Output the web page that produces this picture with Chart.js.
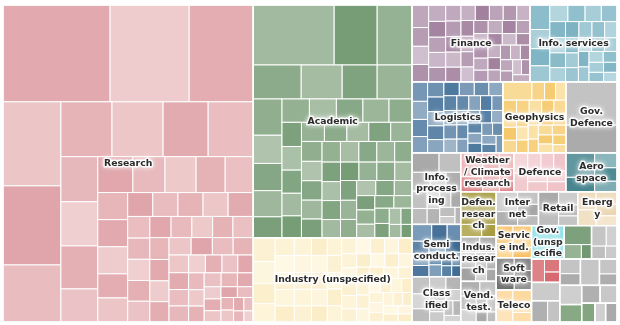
<!DOCTYPE html>
<html>
<head>
<meta charset="utf-8">
<script src="https://cdn.jsdelivr.net/npm/chart.js@4.4.0/dist/chart.umd.min.js"></script>
<style>
  html, body { margin: 0; padding: 0; background: #fff; }
  #wrap { width: 620px; height: 325px; }
</style>
</head>
<body>
<div id="wrap"><canvas id="tree"></canvas></div>
<script>
// application areas, biggest first; unnamed ones get no caption
const areaNames = [
  "Research", "Academic", "Industry (unspecified)", "Finance", "Info. services",
  "Logistics", "Geophysics", "Gov. Defence", "Info. processing", "Semiconduct.",
  "Classified", "Weather / Climate research", "Defence", "Aero space",
  "Defen. research", "Indus. research", "Vend. test.", "Internet", "Retail",
  "Energy", "Service ind.", "Software", "Teleco", "Gov. (unspecified)",
  "", "", "", "", "", "", "", "", "", "", "", "", "", "", "",
];

// caption lines as they are wrapped inside each box
const labelLines = [
  ["Research"], ["Academic"], ["Industry (unspecified)"], ["Finance"], ["Info. services"],
  ["Logistics"], ["Geophysics"], ["Gov.", "Defence"], ["Info.", "process", "ing"], ["Semi", "conduct."],
  ["Class", "ified"], ["Weather", "/ Climate", "research"], ["Defence"], ["Aero", "space"],
  ["Defen.", "resear", "ch"], ["Indus.", "resear", "ch"], ["Vend.", "test."], ["Inter", "net"], ["Retail"],
  ["Energ", "y"], ["Servic", "e ind."], ["Soft", "ware"], ["Teleco"], ["Gov.", "(unsp", "ecifie"],
];

// one value per system, per area
const systems = [
  [10379, 7663, 6208, 4872, 4582, 3306, 2805, 2805, 2475, 2475, 1665, 1628, 1591, 1221, 1260, 1152, 1116, 1044, 1008,
   810, 810, 810, 720, 720, 600, 600, 600, 600, 600, 480, 470, 470, 460, 460, 450, 440, 440, 430, 430, 420, 410, 400,
   390, 385, 370, 362, 350, 347, 330, 322, 315, 300, 296, 283, 275, 262, 255, 248, 236, 226, 220, 205, 198, 190, 176,
   170, 158, 150, 138, 126, 115, 104],
  [4860, 2580, 2100, 1632, 1394, 1190, 1190, 1044, 812, 783, 754, 609, 640, 630, 620, 610, 540, 470, 460, 450, 440, 430,
   440, 430, 420, 420, 410, 410, 400, 400, 390, 390, 380, 380, 370, 370, 360, 360, 350, 350, 340, 340, 330, 330, 320, 320,
   310, 300, 290, 280, 270, 260, 260, 250, 240, 230, 220, 210, 190, 180, 160, 150],
  [520, 480, 440, 400, 340, 330, 320, 315, 310, 300, 295, 290, 285, 280, 275, 270, 265, 260, 255, 250, 245, 240, 238, 235,
   230, 226, 222, 218, 215, 212, 208, 205, 200, 196, 192, 188, 185, 182, 178, 175, 172, 168, 165, 162, 158, 155, 152, 148,
   145, 142, 138, 135, 132, 128, 125, 122, 118, 115, 112],
  [373, 310, 300, 290, 280, 270, 260, 255, 250, 245, 240, 235, 230, 226, 222, 218, 214, 210, 206, 202, 198, 195, 192,
   189, 186, 183, 180, 177, 174, 171, 168, 165, 162, 159, 156, 153, 150, 147, 144, 141, 138, 135, 132, 129, 126],
  [486, 380, 340, 320, 300, 285, 270, 260, 250, 240, 232, 225, 218, 212, 206, 200, 195, 190, 185, 180, 175, 170, 165,
   160, 155, 150, 145, 140, 135, 130],
  [300, 280, 265, 255, 245, 238, 230, 224, 218, 212, 206, 200, 196, 192, 188, 184, 180, 176, 172, 168, 164, 160, 157,
   154, 151, 148, 145, 142, 139, 136, 133, 130, 127, 124, 122],
  [525, 230, 200, 190, 185, 180, 175, 170, 168, 165, 162, 160, 158, 155, 152, 150, 148, 145, 142, 140, 138, 135, 132,
   130, 128, 110],
  [2200, 1421],
  [520, 420, 340, 300, 280, 260, 240, 220, 200, 180, 160, 140, 120, 99],
  [330, 260, 230, 210, 200, 190, 180, 170, 160, 150, 140, 120, 110, 100],
  [300, 260, 230, 210, 190, 180, 170, 160, 150, 130, 115, 110],
  [520, 330, 260, 230, 200, 190, 180, 157],
  [280, 260, 240, 230, 220, 210, 200, 200, 188],
  [700, 420, 330, 300, 239],
  [1150, 260, 180],
  [300, 260, 230, 200, 180, 160, 130, 120],
  [280, 240, 210, 190, 170, 150, 110, 90],
  [420, 300, 260, 240, 208],
  [380, 300, 250, 210, 186],
  [330, 290, 260, 240, 206],
  [300, 240, 210, 200, 190],
  [320, 260, 220, 190, 150],
  [280, 250, 220, 200, 180],
  [1088],
  [520, 250, 148],
  [300, 220, 180, 150],
  [300, 200, 160],
  [520],
  [340, 260],
  [300, 240],
  [500],
  [260, 200],
  [420],
  [380],
  [330],
  [300],
  [250],
  [200],
  [213],
];

// dark / light end of each area's colour
const palette = [
  ["#e0a5aa", "#f0cfd0"], ["#779d77", "#b0c4ad"], ["#fbedc8", "#fef8e4"], ["#a2819e", "#d0bfcf"],
  ["#7db3c3", "#bddbe3"], ["#4f7aa0", "#9db4c9"], ["#f5c96b", "#fbe5b0"], ["#a4a4a4", "#c6c6c6"],
  ["#a9a9a9", "#d3d3d3"], ["#3a6790", "#8aa8c3"], ["#b3b3b3", "#d6d6d6"], ["#d8777e", "#f2c4c5"],
  ["#efc3c8", "#f6dadd"], ["#3f7f89", "#93bcc1"], ["#a89d45", "#bfb56a"], ["#9a9a9a", "#cfcfcf"],
  ["#a8a8a8", "#d4d4d4"], ["#a5a5a5", "#d0d0d0"], ["#a8a8a8", "#d3d3d3"], ["#e9d4af", "#f5e8d0"],
  ["#f9c062", "#fcd999"], ["#6e6e6e", "#9a9a9a"], ["#fcd697", "#fee8c4"], ["#7bdbe3", "#8fe2e8"],
  ["#6f976f", "#a7bfa3"], ["#b5b5b5", "#d5d5d5"], ["#d4656c", "#e49296"], ["#a9a9a9", "#cfcfcf"],
  ["#b0b0b0", "#d2d2d2"], ["#a6a6a6", "#cccccc"], ["#b8b8b8", "#d8d8d8"], ["#acacac", "#d0d0d0"],
  ["#b4b4b4", "#d4d4d4"], ["#7fa37c", "#93b190"], ["#a9a9a9", "#cdcdcd"], ["#b6b6b6", "#d6d6d6"],
  ["#7fa37c", "#9ab696"], ["#b0b0b0", "#d0d0d0"], ["#a8a8a8", "#cacaca"],
];

const shadeSteps = [0.1, 0.9, 0.2, 0.75, 0.0, 0.55, 0.35, 0.8, 0.15, 0.6, 0.45, 1.0, 0.25, 0.7, 0.05, 0.5, 0.85, 0.3, 0.65, 0.4];

const sum = (arr) => arr.reduce((a, b) => a + b, 0);

function mix(c0, c1, t) {
  const a = parseInt(c0.slice(1), 16), b = parseInt(c1.slice(1), 16);
  const ch = (n, s) => (n >> s) & 255;
  const m = (s) => Math.round(ch(a, s) + (ch(b, s) - ch(a, s)) * t);
  return `rgb(${m(16)},${m(8)},${m(0)})`;
}

function worst(row, side) {
  const s = sum(row);
  let w = 0;
  for (const a of row) {
    w = Math.max(w, (side * side * a) / (s * s), (s * s) / (side * side * a));
  }
  return w;
}

// squarified layout in data units
function squarify(values, box) {
  const k = (box.w * box.h) / sum(values);
  const sizes = values.map((v) => v * k);
  let { x, y, w, h } = box;
  const out = [];
  let i = 0;
  while (i < sizes.length) {
    const side = Math.max(Math.min(w, h), 1e-6);
    let row = [sizes[i]];
    let best = worst(row, side);
    let j = i + 1;
    while (j < sizes.length) {
      const next = row.concat(sizes[j]);
      const ws = worst(next, side);
      if (ws > best) break;
      row = next;
      best = ws;
      j++;
    }
    const s = sum(row);
    if (w >= h) {
      const cw = s / h;
      let yy = y;
      row.forEach((a) => {
        out.push({ x, y: yy, w: cw, h: a / cw });
        yy += a / cw;
      });
      x += cw;
      w -= cw;
    } else {
      const rh = s / w;
      let xx = x;
      row.forEach((a) => {
        out.push({ x: xx, y, w: a / rh, h: rh });
        xx += a / rh;
      });
      y += rh;
      h -= rh;
    }
    i = j;
  }
  return out;
}

const treemap = {
  id: "treemap",
  afterDatasetsDraw(chart) {
    const { ctx } = chart;
    const xs = chart.scales.x;
    const ys = chart.scales.y;
    const px = (v) => xs.getPixelForValue(v);
    const py = (v) => ys.getPixelForValue(v);
    const toPx = (b) => {
      const x0 = px(b.x), x1 = px(b.x + b.w), y0 = py(b.y), y1 = py(b.y + b.h);
      return { x: x0, y: y0, w: x1 - x0, h: y1 - y0 };
    };

    const boxes = squarify(systems.map(sum), {
      x: xs.min, y: ys.min, w: xs.max - xs.min, h: ys.max - ys.min,
    });

    ctx.save();
    boxes.forEach((b, g) => {
      squarify(systems[g], b).forEach((c, i) => {
        const r = toPx(c);
        const t = shadeSteps[(i + g * 3) % shadeSteps.length];
        ctx.fillStyle = mix(palette[g][0], palette[g][1], t);
        ctx.fillRect(r.x, r.y, r.w, r.h);
        ctx.strokeStyle = "#fff";
        ctx.lineWidth = 1;
        ctx.strokeRect(r.x, r.y, r.w, r.h);
      });
      const r = toPx(b);
      ctx.strokeStyle = "#fff";
      ctx.lineWidth = 1.5;
      ctx.strokeRect(r.x, r.y, r.w, r.h);
    });

    // captions
    ctx.font = 'bold 9.3px "DejaVu Sans"';
    ctx.textAlign = "center";
    ctx.textBaseline = "middle";
    ctx.lineJoin = "round";
    const lh = 11.5;
    boxes.forEach((b, g) => {
      const lines = labelLines[g];
      if (!lines || !lines.length) return;
      const r = toPx(b);
      const cx = r.x + r.w / 2;
      const top = r.y + r.h / 2 - (lines.length * lh) / 2 + lh / 2;
      ctx.save();
      ctx.beginPath();
      ctx.rect(r.x, r.y, r.w, r.h);
      ctx.clip();
      lines.forEach((ln, k) => {
        const yy = top + k * lh;
        ctx.shadowColor = "rgba(255,255,255,1)";
        ctx.shadowBlur = 5;
        ctx.strokeStyle = "rgba(255,255,255,0.85)";
        ctx.lineWidth = 3;
        ctx.strokeText(ln, cx, yy);
        ctx.shadowBlur = 0;
        ctx.fillStyle = "#2b2b2b";
        ctx.fillText(ln, cx, yy);
      });
      ctx.restore();
    });
    ctx.restore();
  },
};

new Chart(document.getElementById("tree"), {
  type: "scatter",
  data: { datasets: [{ data: [] }] },
  options: {
    responsive: true,
    maintainAspectRatio: false,
    animation: false,
    events: [],
    layout: { padding: { left: 3, right: 3, top: 5, bottom: 3 } },
    plugins: { legend: { display: false }, tooltip: { enabled: false } },
    scales: {
      x: { type: "linear", min: 0, max: 614, display: false },
      y: { type: "linear", min: 0, max: 317, reverse: true, display: false },
    },
  },
  plugins: [treemap],
});
</script>
</body>
</html>
